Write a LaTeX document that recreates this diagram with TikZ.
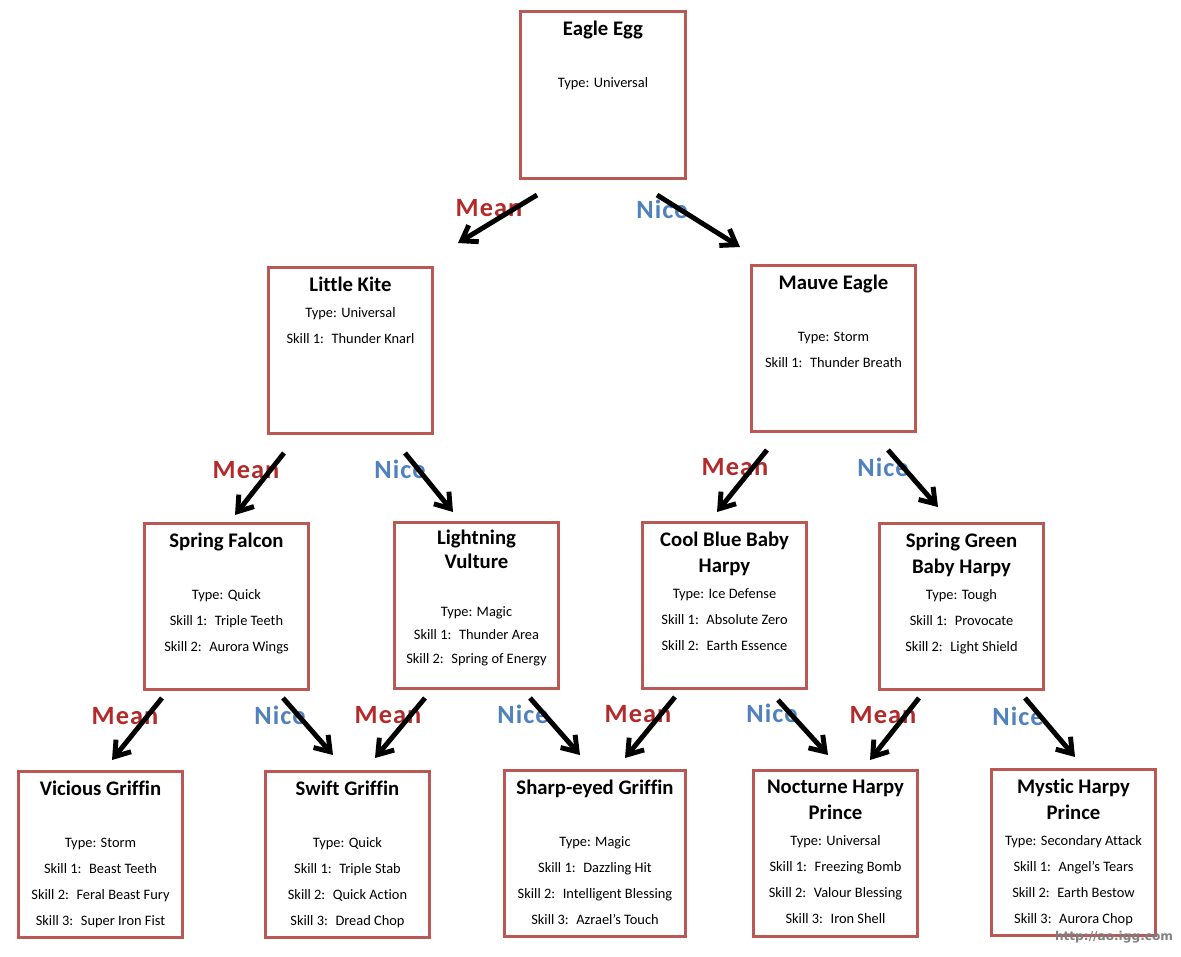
\documentclass[tikz,border=0pt]{standalone}
\usepackage{fontspec}
\setmainfont{Carlito}[Ligatures={TeX,NoCommon}]
\newfontfamily\lblfont{Carlito}[LetterSpace=4]
\newfontfamily\wmfont{DejaVu Sans}
\usetikzlibrary{positioning, calc, arrows.meta}
\definecolor{boxred}{RGB}{186,88,86}
\definecolor{meanred}{RGB}{178,42,42}
\definecolor{niceblue}{RGB}{79,129,189}
\newcommand{\ttl}{\fontsize{11.8}{\baselineskip}\selectfont\bfseries}
\tikzset{
    card/.style={rectangle, draw=boxred, line width=1.7pt, minimum width=3.3cm, minimum height=3.34cm, outer sep=0pt, fill=white},
    cardtext/.style={align=center, inner sep=0pt, font=\fontsize{8.2}{#1}\selectfont},
    cardtext/.default=14.8pt,
    arrow/.style={line width=2.8pt, -{Straight Barb[length=8pt, width=11pt]}},
    mean/.style={font=\lblfont\fontsize{15}{18}\selectfont\bfseries, text=meanred},
    nice/.style={font=\lblfont\fontsize{15}{18}\selectfont\bfseries, text=niceblue}
}

\begin{document}
\begin{tikzpicture}[x=0.02cm, y=-0.02cm]
        \useasboundingbox (0,0) rectangle (1181,957);

        % cards
        \node (egg) [card] at (603,95) {};
        \node (eggtxt) [cardtext, below=1.9mm of egg.north] {{\ttl Eagle Egg}\\[\baselineskip] Type: Universal};

        \node (kite) [card] at (350.5,350.5) {};
        \node (kitetxt) [cardtext, below=1.9mm of kite.north] {{\ttl Little Kite}\\ Type: Universal\\ Skill 1:~ Thunder Knarl};
        \node (mauve) [card] at (833.5,348.5) {};
        \node (mauvetxt) [cardtext, below=1.9mm of mauve.north] {{\ttl Mauve Eagle}\\[\baselineskip] Type: Storm\\ Skill 1:~ Thunder Breath};

        \node (falcon) [card] at (226.5,606.5) {};
        \node (falcontxt) [cardtext, below=1.9mm of falcon.north] {{\ttl Spring Falcon}\\[\baselineskip] Type: Quick\\ Skill 1:~ Triple Teeth\\ Skill 2:~ Aurora Wings};
        \node (vulture) [card] at (476.5,605.5) {};
        \node (vulturetxt) [cardtext=13.6pt, below=1.5mm of vulture.north] {{\ttl Lightning}\\ {\ttl Vulture}\\[\baselineskip] Type: Magic\\ Skill 1:~ Thunder Area\\ Skill 2:~ Spring of Energy};
        \node (coolblue) [card] at (724.5,605.5) {};
        \node (coolbluetxt) [cardtext, below=1.9mm of coolblue.north] {{\ttl Cool Blue Baby}\\ {\ttl Harpy}\\ Type: Ice Defense\\ Skill 1:~ Absolute Zero\\ Skill 2:~ Earth Essence};
        \node (springgreen) [card] at (961.5,606.5) {};
        \node (springgreentxt) [cardtext, below=1.9mm of springgreen.north] {{\ttl Spring Green}\\ {\ttl Baby Harpy}\\ Type: Tough\\ Skill 1:~ Provocate\\ Skill 2:~ Light Shield};

        \node (vicious) [card] at (100.5,854.5) {};
        \node (vicioustxt) [cardtext, below=1.9mm of vicious.north] {{\ttl Vicious Griffin}\\[\baselineskip] Type: Storm\\ Skill 1:~ Beast Teeth\\ Skill 2:~ Feral Beast Fury\\ Skill 3:~ Super Iron Fist};
        \node (swift) [card] at (347.5,854.5) {};
        \node (swifttxt) [cardtext, below=1.9mm of swift.north] {{\ttl Swift Griffin}\\[\baselineskip] Type: Quick\\ Skill 1:~ Triple Stab\\ Skill 2:~ Quick Action\\ Skill 3:~ Dread Chop};
        \node (sharpeye) [card, minimum width=3.64cm] at (595,853.5) {};
        \node (sharpeyetxt) [cardtext, below=1.9mm of sharpeye.north] {{\ttl Sharp-eyed Griffin}\\[\baselineskip] Type: Magic\\ Skill 1:~ Dazzling Hit\\ Skill 2:~ Intelligent Blessing\\ Skill 3:~ Azrael's Touch};
        \node (nocturne) [card] at (835.5,853.5) {};
        \node (nocturnetxt) [cardtext, below=1.9mm of nocturne.north] {{\ttl Nocturne Harpy}\\ {\ttl Prince}\\ Type: Universal\\ Skill 1:~ Freezing Bomb\\ Skill 2:~ Valour Blessing\\ Skill 3:~ Iron Shell};
        \node (mystic) [card] at (1073.5,852.5) {};
        \node (mystictxt) [cardtext, below=1.9mm of mystic.north] {{\ttl Mystic Harpy}\\ {\ttl Prince}\\ Type: Secondary Attack\\ Skill 1:~ Angel's Tears\\ Skill 2:~ Earth Bestow\\ Skill 3:~ Aurora Chop};

        % labels
        \node (m1) [mean] at (489,208) {Mean};
        \node (n1) [nice] at (662,209) {Nice};
        \node (m2) [mean] at (246,470) {Mean};
        \node (n2) [nice] at (400,469) {Nice};
        \node (m3) [mean] at (735,467) {Mean};
        \node (n3) [nice] at (883,467) {Nice};
        \node (m4) [mean] at (125,716) {Mean};
        \node (n4) [nice] at (280,715) {Nice};
        \node (m5) [mean] at (388,715) {Mean};
        \node (n5) [nice] at (523,714) {Nice};
        \node (m6) [mean] at (638,714) {Mean};
        \node (n6) [nice] at (772,713) {Nice};
        \node (m7) [mean] at (883,715) {Mean};
        \node (n7) [nice] at (1018,716) {Nice};

        % arrows
        \draw [arrow] ($(egg.south)+(-66,16.5)$) -- ($(kite.north)+(107.5,-24)$);
        \draw [arrow] ($(egg.south)+(54,16.5)$) -- ($(mauve.north)+(-93.5,-18)$);
        \draw [arrow] ($(kite.south)+(-66.5,19)$) -- ($(falcon.north)+(8.5,-8)$);
        \draw [arrow] ($(kite.south)+(54.5,19)$) -- ($(vulture.north)+(-23.5,-10)$);
        \draw [arrow] ($(mauve.south)+(-66.5,18)$) -- ($(coolblue.north)+(-7.5,-10)$);
        \draw [arrow] ($(mauve.south)+(54.5,18)$) -- ($(springgreen.north)+(-23.5,-16)$);
        \draw [arrow] ($(falcon.south)+(-64.5,8)$) -- ($(vicious.north)+(11.5,-11)$);
        \draw [arrow] ($(falcon.south)+(56.5,8)$) -- ($(swift.north)+(-14.5,-16)$);
        \draw [arrow] ($(vulture.south)+(-51.5,9)$) -- ($(swift.north)+(27.5,-13)$);
        \draw [arrow] ($(vulture.south)+(53.5,9)$) -- ($(sharpeye.north)+(-15,-15)$);
        \draw [arrow] ($(coolblue.south)+(-49.5,8)$) -- ($(sharpeye.north)+(30,-12)$);
        \draw [arrow] ($(coolblue.south)+(53.5,11)$) -- ($(nocturne.north)+(-7.5,-15)$);
        \draw [arrow] ($(springgreen.south)+(-42.5,8)$) -- ($(nocturne.north)+(34.5,-10)$);
        \draw [arrow] ($(springgreen.south)+(63.5,8)$) -- ($(mystic.north)+(1.5,-12)$);

        \node (wm) [font=\wmfont\bfseries\fontsize{6.9}{8}\selectfont, text=black!50] at (1114,937) {http://ao.igg.com};
\end{tikzpicture}
\end{document}
